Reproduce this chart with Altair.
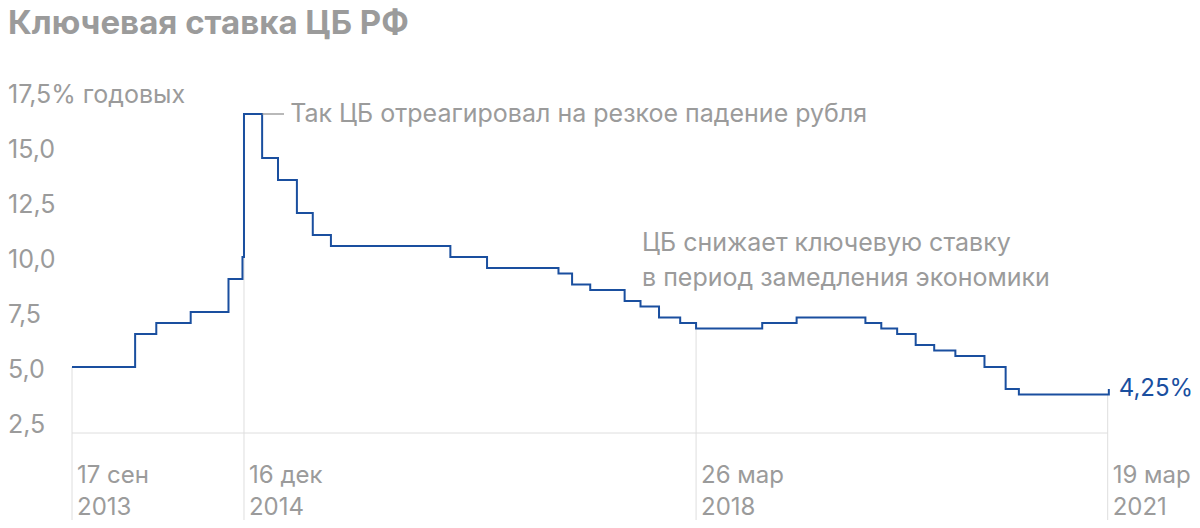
import altair as alt
import pandas as pd

# ---- data ----
dates = ["2013-09-17", "2014-03-03", "2014-04-28", "2014-07-28", "2014-11-05",
         "2014-12-12", "2014-12-16", "2015-02-02", "2015-03-16", "2015-05-05",
         "2015-06-16", "2015-08-03", "2016-06-14", "2016-09-19", "2017-03-27",
         "2017-05-02", "2017-06-19", "2017-09-18", "2017-10-30", "2017-12-18",
         "2018-02-12", "2018-03-26", "2018-09-17", "2018-12-17", "2019-06-17",
         "2019-07-29", "2019-09-09", "2019-10-28", "2019-12-16", "2020-02-10",
         "2020-04-27", "2020-06-22", "2020-07-27", "2021-03-22"]
rates = [5.5, 7.0, 7.5, 8.0, 9.5,
         10.5, 17.0, 15.0, 14.0, 12.5,
         11.5, 11.0, 10.5, 10.0, 9.75,
         9.25, 9.0, 8.5, 8.25, 7.75,
         7.5, 7.25, 7.5, 7.75, 7.5,
         7.25, 7.0, 6.5, 6.25, 6.0,
         5.5, 4.5, 4.25, 4.5]

marker_dates = ["2013-09-17", "2014-12-16", "2018-03-26", "2021-03-19"]
marker_rates = [5.5, 17.0, 7.25, 4.25]
marker_day = ["17 сен", "16 дек", "26 мар", "19 мар"]
marker_year = ["2013", "2014", "2018", "2021"]

y_ticks = [2.5, 5.0, 7.5, 10.0, 12.5, 15.0, 17.5]
y_tick_labels = ["2,5", "5,0", "7,5", "10,0", "12,5", "15,0", "17,5% годовых"]

title_text = "Ключевая ставка ЦБ РФ"
peak_note = "Так ЦБ отреагировал на резкое падение рубля"
peak_note_date = "2015-02-02"
peak_note_rate = 17.0
decline_note_1 = "ЦБ снижает ключевую ставку"
decline_note_2 = "в период замедления экономики"
last_label = "4,25%"
last_date = "2021-03-19"
last_rate = 4.25

# ---- styles ----
BLUE = "#1a4f9f"
GRAY = "#9b9b9b"
RULE = "#dedede"
FONT = "Inter"
FS = 25

line_df = pd.DataFrame({"date": dates, "rate": rates})
marker_df = pd.DataFrame({"date": marker_dates, "rate": marker_rates,
                          "day": marker_day, "year": marker_year})
ytick_df = pd.DataFrame({"v": y_ticks, "label": y_tick_labels})
base_df = pd.DataFrame({"date": [marker_dates[0]], "date2": [marker_dates[-1]],
                        "rate": [y_ticks[0]]})
peak_df = pd.DataFrame({"date": [peak_note_date], "rate": [peak_note_rate],
                        "label": [peak_note]})
last_df = pd.DataFrame({"date": [last_date], "rate": [last_rate],
                        "label": [last_label]})

xscale = alt.Scale(
    type="utc",
    domain=[alt.DateTime(year=2013, month=9, date=17, utc=True),
            alt.DateTime(year=2021, month=3, date=19, utc=True)],
    range=[64, 1099.7],
)
yscale = alt.Scale(domain=[2.5, 17.5], range=[425, 95], zero=False, nice=False)

X = alt.X("date:T", scale=xscale, axis=None)
Y = alt.Y("rate:Q", scale=yscale, axis=None)

rules = alt.Chart(marker_df).mark_rule(color=RULE, strokeWidth=1).encode(
    x=X, y=Y, y2=alt.value(512)
)
baseline = alt.Chart(base_df).mark_rule(color=RULE, strokeWidth=1).encode(
    x=X, x2="date2:T", y=Y
)
line = alt.Chart(line_df).mark_line(
    interpolate="step-after", color=BLUE, strokeWidth=2
).encode(x=X, y=Y)

ylabels = alt.Chart(ytick_df).mark_text(
    align="left", baseline="alphabetic", font=FONT, fontSize=FS, color=GRAY
).encode(
    x=alt.value(0),
    y=alt.Y("v:Q", scale=yscale, axis=None),
    text="label:N",
)

xl1 = alt.Chart(marker_df).mark_text(
    align="left", baseline="alphabetic", font=FONT, fontSize=24, color=GRAY, dx=5
).encode(x=X, y=alt.value(474.5), text="day:N")
xl2 = alt.Chart(marker_df).mark_text(
    align="left", baseline="alphabetic", font=FONT, fontSize=24, color=GRAY, dx=5
).encode(x=X, y=alt.value(507), text="year:N")

connector = alt.Chart(peak_df).mark_rule(color="#8a8a8a", strokeWidth=1.2).encode(
    x=X, x2=alt.value(276), y=Y
)
peak_text = alt.Chart(peak_df).mark_text(
    align="left", baseline="alphabetic", font=FONT, fontSize=FS, color=GRAY,
    dx=28, dy=8
).encode(x=X, y=Y, text="label:N")

dec1 = alt.Chart(peak_df).mark_text(
    align="left", baseline="alphabetic", font=FONT, fontSize=FS, color=GRAY
).encode(x=alt.value(634), y=alt.value(243), text=alt.value(decline_note_1))
dec2 = alt.Chart(peak_df).mark_text(
    align="left", baseline="alphabetic", font=FONT, fontSize=FS, color=GRAY
).encode(x=alt.value(634), y=alt.value(278), text=alt.value(decline_note_2))

last_text = alt.Chart(last_df).mark_text(
    align="left", baseline="alphabetic", font=FONT, fontSize=24, color=BLUE,
    dx=11, dy=1
).encode(x=X, y=Y, text="label:N")

title = alt.Chart(peak_df).mark_text(
    align="left", baseline="alphabetic", font=FONT, fontSize=33,
    fontWeight="bold", color=GRAY
).encode(x=alt.value(0), y=alt.value(26), text=alt.value(title_text))

chart = alt.layer(
    rules, baseline, line, ylabels, xl1, xl2, connector, peak_text,
    dec1, dec2, last_text, title
).properties(
    width=1184, height=512, padding=0,
    autosize=alt.AutoSizeParams(type="none"),
).configure_view(stroke=None).resolve_scale(x="shared", y="shared")

chart.save("out.html", embed_options={"renderer": "svg", "actions": False})
